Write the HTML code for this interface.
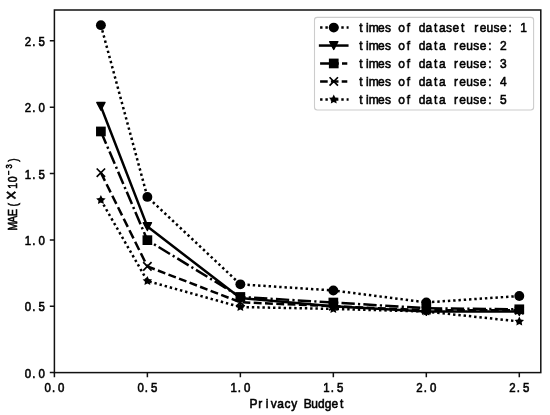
<!DOCTYPE html>
<html><head><meta charset="utf-8"><title>MAE vs Privacy Budget</title>
<style>
html,body{margin:0;padding:0;background:#fff;}
body{width:550px;height:415px;overflow:hidden;}
svg{display:block;}
text{font-family:"Liberation Sans","Noto Sans CJK SC",sans-serif;fill:#000;stroke:#000;stroke-width:0.6px;text-anchor:middle;white-space:pre;}
.l{fill:none;stroke:#000;stroke-width:2.5;stroke-linejoin:round;}
.m{fill:#000;stroke:none;}
.mt{fill:#000;stroke:#000;stroke-width:1.4;stroke-linejoin:round;}
.mx{fill:none;stroke:#000;stroke-width:1.7;}
.ax{fill:none;stroke:#111;stroke-width:1.5;}
</style></head><body>
<svg width="550" height="415" viewBox="0 0 550 415">
<rect width="550" height="415" fill="#fff"/>
<polyline points="100.89,25.14 147.38,196.88 240.36,284.34 333.34,290.45 426.32,302.39 519.30,296.02" class="l" stroke-linecap="butt" stroke-dasharray="2.4 2.9"/>
<circle cx="100.89" cy="25.14" r="4.95" class="m"/>
<circle cx="147.38" cy="196.88" r="4.95" class="m"/>
<circle cx="240.36" cy="284.34" r="4.95" class="m"/>
<circle cx="333.34" cy="290.45" r="4.95" class="m"/>
<circle cx="426.32" cy="302.39" r="4.95" class="m"/>
<circle cx="519.30" cy="296.02" r="4.95" class="m"/>
<polyline points="100.89,106.36 147.38,226.61 240.36,298.01 333.34,306.24 426.32,311.42 519.30,311.55" class="l" stroke-linecap="square"/>
<path d="M100.89 110.26L104.99 102.46L96.79 102.46Z" class="mt"/>
<path d="M147.38 230.51L151.48 222.71L143.28 222.71Z" class="mt"/>
<path d="M240.36 301.91L244.46 294.11L236.26 294.11Z" class="mt"/>
<path d="M333.34 310.14L337.44 302.34L329.24 302.34Z" class="mt"/>
<path d="M426.32 315.32L430.42 307.52L422.22 307.52Z" class="mt"/>
<path d="M519.30 315.45L523.40 307.65L515.20 307.65Z" class="mt"/>
<polyline points="100.89,131.45 147.38,240.15 240.36,296.95 333.34,302.52 426.32,308.23 519.30,309.29" class="l" stroke-linecap="butt" stroke-dasharray="13.3 3.2 2.2 3.2"/>
<rect x="96.04" y="126.60" width="9.70" height="9.70" class="m"/>
<rect x="142.53" y="235.30" width="9.70" height="9.70" class="m"/>
<rect x="235.51" y="292.10" width="9.70" height="9.70" class="m"/>
<rect x="328.49" y="297.67" width="9.70" height="9.70" class="m"/>
<rect x="421.47" y="303.38" width="9.70" height="9.70" class="m"/>
<rect x="514.45" y="304.44" width="9.70" height="9.70" class="m"/>
<path d="M100.89 172.72L147.38 266.42" class="l" stroke-dasharray="9.1 3.75"/>
<polyline points="147.38,266.42 240.36,302.26 333.34,306.24 426.32,310.22 519.30,310.22" class="l" stroke-dasharray="7.9 3.4"/>
<path d="M96.69 168.52L105.09 176.92M96.69 176.92L105.09 168.52" class="mx"/>
<path d="M143.18 262.22L151.58 270.62M143.18 270.62L151.58 262.22" class="mx"/>
<path d="M236.16 298.06L244.56 306.46M236.16 306.46L244.56 298.06" class="mx"/>
<path d="M329.14 302.04L337.54 310.44M329.14 310.44L337.54 302.04" class="mx"/>
<path d="M422.12 306.02L430.52 314.42M422.12 314.42L430.52 306.02" class="mx"/>
<path d="M515.10 306.02L523.50 314.42M515.10 314.42L523.50 306.02" class="mx"/>
<polyline points="100.89,200.06 147.38,281.02 240.36,307.04 333.34,308.89 426.32,311.55 519.30,321.50" class="l" stroke-linecap="butt" stroke-dasharray="2.4 2.9"/>
<path d="M100.89 195.06L102.36 198.04L105.65 198.52L103.27 200.84L103.83 204.11L100.89 202.56L97.95 204.11L98.51 200.84L96.13 198.52L99.42 198.04Z" class="m"/>
<path d="M147.38 276.02L148.85 279.00L152.14 279.48L149.76 281.80L150.32 285.07L147.38 283.52L144.44 285.07L145.00 281.80L142.62 279.48L145.91 279.00Z" class="m"/>
<path d="M240.36 302.04L241.83 305.01L245.12 305.49L242.74 307.81L243.30 311.08L240.36 309.54L237.42 311.08L237.98 307.81L235.60 305.49L238.89 305.01Z" class="m"/>
<path d="M333.34 303.89L334.81 306.87L338.10 307.35L335.72 309.67L336.28 312.94L333.34 311.39L330.40 312.94L330.96 309.67L328.58 307.35L331.87 306.87Z" class="m"/>
<path d="M426.32 306.55L427.79 309.53L431.08 310.00L428.70 312.32L429.26 315.59L426.32 314.05L423.38 315.59L423.94 312.32L421.56 310.00L424.85 309.53Z" class="m"/>
<path d="M519.30 316.50L520.77 319.48L524.06 319.96L521.68 322.28L522.24 325.55L519.30 324.00L516.36 325.55L516.92 322.28L514.54 319.96L517.83 319.48Z" class="m"/>
<rect x="54.4" y="10.0" width="486.40" height="362.60" class="ax"/>
<path d="M54.40 372.6v4.6M54.4 372.60h-4.6M147.38 372.6v4.6M54.4 306.24h-4.6M240.36 372.6v4.6M54.4 239.88h-4.6M333.34 372.6v4.6M54.4 173.52h-4.6M426.32 372.6v4.6M54.4 107.16h-4.6M519.30 372.6v4.6M54.4 40.80h-4.6" class="ax"/>
<text transform="translate(44.23 391.70) scale(0.88 1)" x="3.85 10.53 19.26" style="font-size:13.0px">0.0</text>
<text transform="translate(24.66 377.70) scale(0.88 1)" x="3.85 10.53 19.26" style="font-size:13.0px">0.0</text>
<text transform="translate(137.21 391.70) scale(0.88 1)" x="3.85 10.53 19.26" style="font-size:13.0px">0.5</text>
<text transform="translate(24.66 311.34) scale(0.88 1)" x="3.85 10.53 19.26" style="font-size:13.0px">0.5</text>
<text transform="translate(230.19 391.70) scale(0.88 1)" x="3.85 10.53 19.26" style="font-size:13.0px">1.0</text>
<text transform="translate(24.66 244.98) scale(0.88 1)" x="3.85 10.53 19.26" style="font-size:13.0px">1.0</text>
<text transform="translate(323.17 391.70) scale(0.88 1)" x="3.85 10.53 19.26" style="font-size:13.0px">1.5</text>
<text transform="translate(24.66 178.62) scale(0.88 1)" x="3.85 10.53 19.26" style="font-size:13.0px">1.5</text>
<text transform="translate(416.15 391.70) scale(0.88 1)" x="3.85 10.53 19.26" style="font-size:13.0px">2.0</text>
<text transform="translate(24.66 112.26) scale(0.88 1)" x="3.85 10.53 19.26" style="font-size:13.0px">2.0</text>
<text transform="translate(509.13 391.70) scale(0.88 1)" x="3.85 10.53 19.26" style="font-size:13.0px">2.5</text>
<text transform="translate(24.66 45.90) scale(0.88 1)" x="3.85 10.53 19.26" style="font-size:13.0px">2.5</text>
<text transform="translate(250.14 408.20) scale(0.88 1)" x="3.85 11.56 19.26 26.97 34.67 42.38 50.08 57.78 65.49 73.19 80.90 88.60 96.31 104.01" style="font-size:13.6px">Privacy Budget</text>
<text transform="translate(17.2 229.5) rotate(-90) scale(0.78 1)" style="font-size:13.4px" x="4.36 13.21 21.79 31.79 43.97 56.03 64.36 72.82 81.03 88.97">MAE(<tspan style="font-size:21px" dy="0.9">×</tspan><tspan dy="-0.9">10</tspan><tspan style="font-size:9.8px" dy="-5.6">−3</tspan><tspan dy="5.6">)</tspan></text>
<rect x="314.5" y="17.4" width="219.1" height="92.6" rx="2.7" ry="2.7" fill="#fff" fill-opacity="0.8" stroke="#ccc" stroke-width="1.1"/>
<path d="M320.10 27.6L348.60 27.6" class="l" stroke-linecap="butt" stroke-dasharray="2.4 2.9"/>
<circle cx="333.75" cy="27.60" r="4.95" class="m"/>
<text transform="translate(357.60 32.00) scale(0.88 1)" x="3.85 11.10 18.47 26.97 34.67 42.38 50.08 57.78 65.49 73.19 80.90 88.60 96.31 104.01 111.72 119.42 127.12 134.83 142.53 150.24 157.94 165.65 173.35 181.06 188.76" style="font-size:13.6px">times of dataset reuse: 1</text>
<path d="M320.10 45.55L347.30 45.55" class="l" stroke-linecap="square"/>
<path d="M333.75 49.45L337.85 41.65L329.65 41.65Z" class="mt"/>
<text transform="translate(357.60 49.95) scale(0.88 1)" x="3.85 11.10 18.47 26.97 34.67 42.38 50.08 57.78 65.49 73.19 80.90 88.60 96.31 104.01 111.72 119.42 127.12 134.83 142.53 150.24 157.94 165.65" style="font-size:13.6px">times of data reuse: 2</text>
<path d="M320.10 63.45L347.30 63.45" class="l" stroke-linecap="butt" stroke-dasharray="13.3 3.2 2.2 3.2"/>
<rect x="328.90" y="58.60" width="9.70" height="9.70" class="m"/>
<text transform="translate(357.60 67.85) scale(0.88 1)" x="3.85 11.10 18.47 26.97 34.67 42.38 50.08 57.78 65.49 73.19 80.90 88.60 96.31 104.01 111.72 119.42 127.12 134.83 142.53 150.24 157.94 165.65" style="font-size:13.6px">times of data reuse: 3</text>
<path d="M320.10 81.45L347.30 81.45" class="l" stroke-linecap="butt" stroke-dasharray="7.6 3.2"/>
<path d="M329.55 77.25L337.95 85.65M329.55 85.65L337.95 77.25" class="mx"/>
<text transform="translate(357.60 85.85) scale(0.88 1)" x="3.85 11.10 18.47 26.97 34.67 42.38 50.08 57.78 65.49 73.19 80.90 88.60 96.31 104.01 111.72 119.42 127.12 134.83 142.53 150.24 157.94 165.65" style="font-size:13.6px">times of data reuse: 4</text>
<path d="M320.10 99.4L348.60 99.4" class="l" stroke-linecap="butt" stroke-dasharray="2.4 2.9"/>
<path d="M333.75 94.40L335.22 97.38L338.51 97.85L336.13 100.17L336.69 103.45L333.75 101.90L330.81 103.45L331.37 100.17L328.99 97.85L332.28 97.38Z" class="m"/>
<text transform="translate(357.60 103.80) scale(0.88 1)" x="3.85 11.10 18.47 26.97 34.67 42.38 50.08 57.78 65.49 73.19 80.90 88.60 96.31 104.01 111.72 119.42 127.12 134.83 142.53 150.24 157.94 165.65" style="font-size:13.6px">times of data reuse: 5</text>
</svg></body></html>
